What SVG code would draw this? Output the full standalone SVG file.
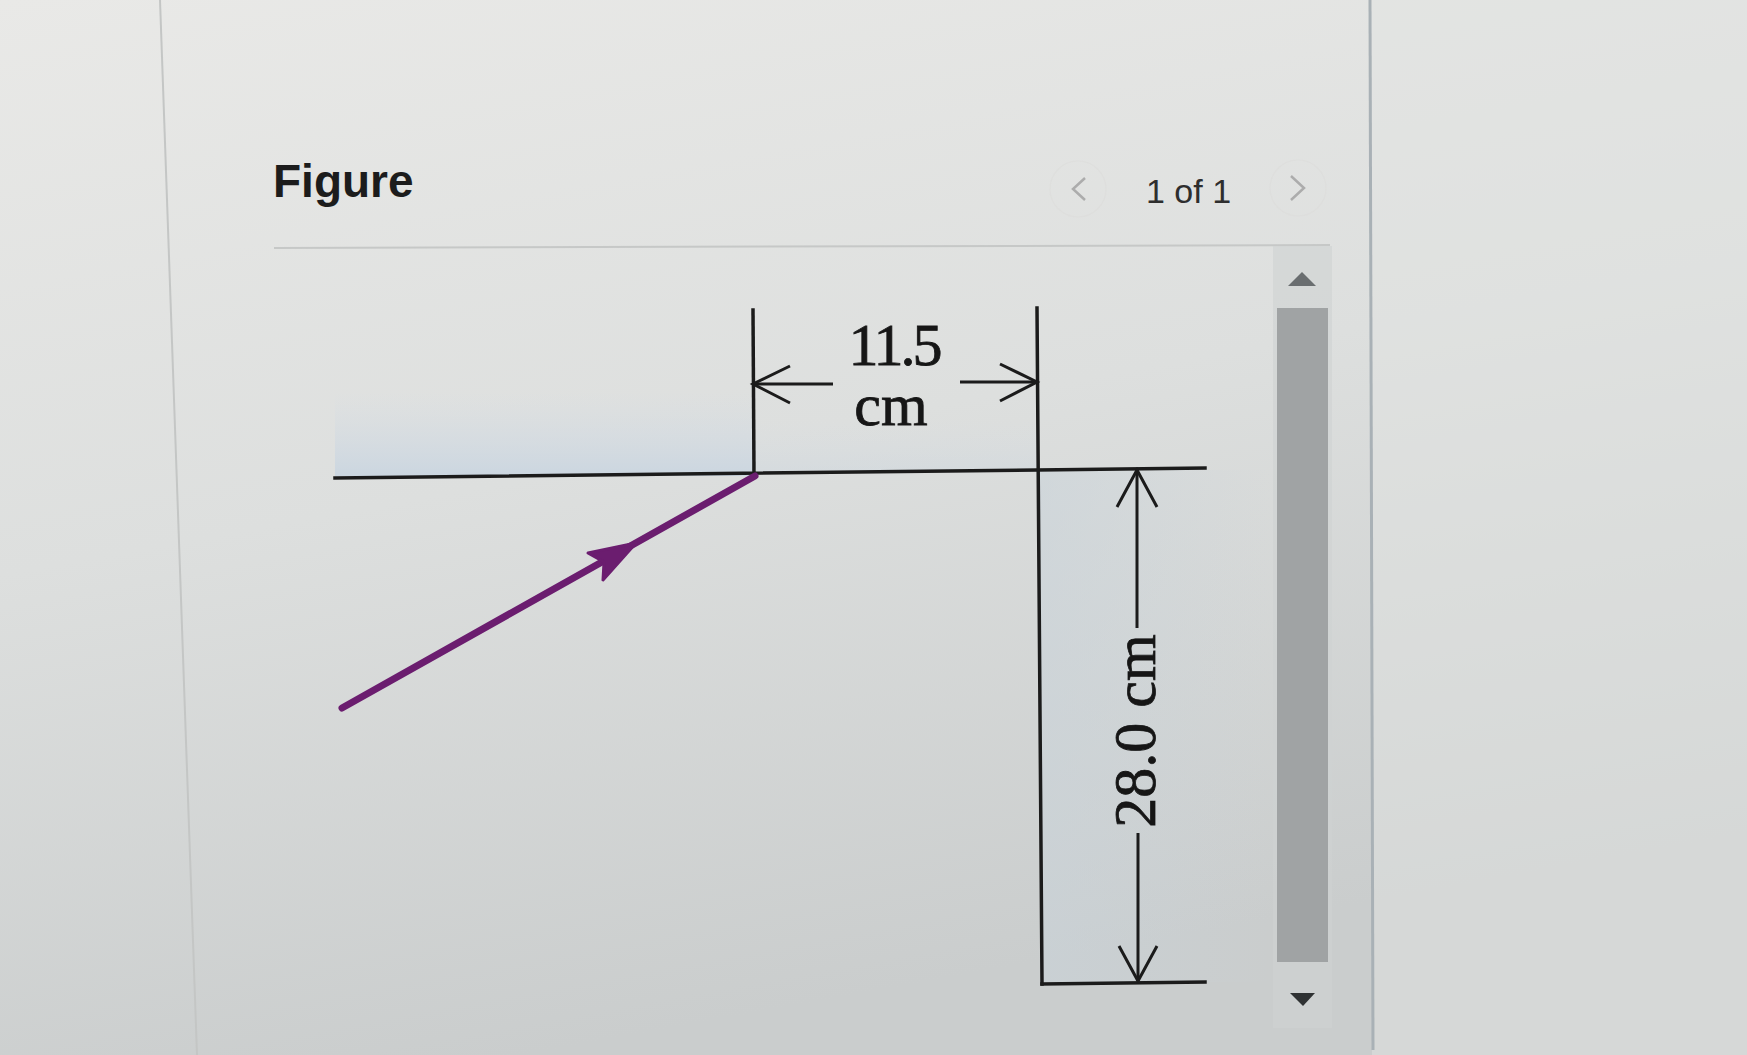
<svg xmlns="http://www.w3.org/2000/svg" width="1747" height="1055" viewBox="0 0 1747 1055">
<defs>
<linearGradient id="bg" x1="0" y1="0" x2="0.3" y2="1">
<stop offset="0" stop-color="#e9e9e7"/>
<stop offset="0.5" stop-color="#dddfde"/>
<stop offset="1" stop-color="#cacdcd"/>
</linearGradient>
<linearGradient id="blue" x1="0" y1="0" x2="0" y2="1">
<stop offset="0" stop-color="#d6dde4" stop-opacity="0"/>
<stop offset="1" stop-color="#cbd6e0" stop-opacity="1"/>
</linearGradient>
<linearGradient id="blue2" x1="0" y1="0" x2="1" y2="0">
<stop offset="0" stop-color="#c9d3da" stop-opacity="0.9"/>
<stop offset="1" stop-color="#c9d3da" stop-opacity="0"/>
</linearGradient>
<style>
.ln{stroke:#1b1b1b;stroke-width:3.5;fill:none;stroke-linecap:square}
.dim{stroke:#1b1b1b;stroke-width:3;fill:none}
.lbl{font-family:"Liberation Serif","Times New Roman",serif;font-size:60px;fill:#161616;stroke:#161616;stroke-width:0.8}
.hdr{font-family:"Liberation Sans",Arial,sans-serif}
</style>
</defs>
<rect width="1747" height="1055" fill="url(#bg)"/>
<rect x="1372" y="0" width="375" height="1055" fill="#e2e3e1" opacity="0.5"/>
<path d="M160,0 L197,1055" stroke="#c4c6c5" stroke-width="2" fill="none"/>
<path d="M1370,0 L1373,1050" stroke="#a9b1b6" stroke-width="3" fill="none"/>
<g id="header">
<text class="hdr" x="273" y="197" font-size="46" font-weight="bold" fill="#1c1c1c">Figure</text>
<circle cx="1078" cy="189" r="28" fill="none" stroke="#dcdcdb" stroke-width="1.2" opacity="0.6"/>
<circle cx="1298" cy="188" r="28" fill="none" stroke="#dcdcdb" stroke-width="1.2" opacity="0.6"/>
<path d="M1085,178 L1073,189 L1085,200" stroke="#acacac" stroke-width="2.5" fill="none"/>
<path d="M1291,176 L1304,188 L1291,200" stroke="#acacac" stroke-width="2.5" fill="none"/>
<text class="hdr" x="1146" y="203" font-size="34" fill="#2e2e2e">1 of 1</text>
<path d="M274,248 L1330,245" stroke="#c6c8c7" stroke-width="2" fill="none"/>
</g>
<g id="scrollbar">
<rect x="1273" y="246" width="59" height="782" fill="#cfd2d2" opacity="0.6"/>
<polygon points="1288,286 1316,286 1302,272" fill="#6a6e70"/>
<rect x="1277" y="308" width="51" height="654" fill="#a0a3a4"/>
<polygon points="1290,993 1315,993 1303,1006" fill="#2f3233"/>
</g>
<rect x="335" y="392" width="418" height="84" fill="url(#blue)"/>
<rect x="755" y="420" width="282" height="52" fill="url(#blue)" opacity="0.4"/>
<rect x="1040" y="470" width="230" height="512" fill="url(#blue2)" opacity="0.6"/>
<g id="surface">
<path class="ln" d="M335,478 L1205,468"/>
<path class="ln" d="M753,310 L754,474"/>
<path class="ln" d="M1037,308 L1042,984"/>
<path class="ln" d="M1042,984 L1205,982"/>
</g>
<g id="ray">
<path d="M342,708 L755,476" stroke="#6b1d6f" stroke-width="7" fill="none" stroke-linecap="round"/>
<polygon points="636,543 603,580 604,562 588,553" fill="#6b1d6f" stroke="#6b1d6f" stroke-width="3" stroke-linejoin="round"/>
</g>
<g id="connectors">
<path class="dim" d="M753,384 L833,384"/>
<path class="dim" d="M790,366 L753,384 L790,403"/>
<path class="dim" d="M960,382 L1037,382"/>
<path class="dim" d="M1000,364 L1037,382 L1000,401"/>
<path class="dim" d="M1137,470 L1137,628"/>
<path class="dim" d="M1117,507 L1137,470 L1157,507"/>
<path class="dim" d="M1138,833 L1138,981"/>
<path class="dim" d="M1119,946 L1138,981 L1157,946"/>
</g>
<g id="label-width">
<text class="lbl" x="894" y="365" text-anchor="middle" letter-spacing="-3">11.5</text>
<text class="lbl" x="891" y="425" text-anchor="middle">cm</text>
</g>
<g id="label-depth">
<text class="lbl" transform="translate(1155,731) rotate(-90)" text-anchor="middle">28.0 cm</text>
</g>
</svg>
